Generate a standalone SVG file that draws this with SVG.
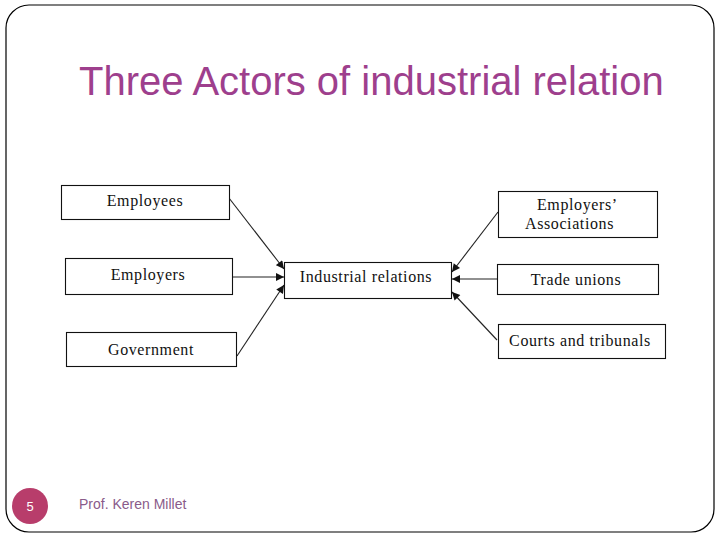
<svg xmlns="http://www.w3.org/2000/svg" width="720" height="540" viewBox="0 0 720 540">
<defs>
<style>
.box{fill:#fff;stroke:#111;stroke-width:1.1}
.lbl{font-family:"Liberation Serif","Times New Roman",serif;font-size:16px;fill:#111;letter-spacing:0.6px}
.edge{stroke:#222;stroke-width:1.1;fill:none;marker-end:url(#ah)}
</style>
<marker id="ah" viewBox="0 0 10 10" refX="10" refY="5" markerWidth="9" markerHeight="8" markerUnits="userSpaceOnUse" orient="auto">
<path d="M0,0 L10,5 L0,10 z" fill="#111"/>
</marker>
</defs>
<rect x="0" y="0" width="720" height="540" fill="#fff"/>
<rect id="slide" x="6" y="5" width="708" height="527" rx="23" ry="23" fill="#fff" stroke="#000" stroke-width="1.2"/>
<text id="title" x="79" y="95" font-family="'Liberation Sans',Arial,sans-serif" font-size="40" fill="#9E3F8D">Three Actors of industrial relation</text>

<g id="connectors">
<line class="edge" x1="229" y1="198" x2="284" y2="269"/>
<line class="edge" x1="232" y1="277" x2="284" y2="277"/>
<line class="edge" x1="237" y1="356" x2="284" y2="285"/>
<line class="edge" x1="498" y1="212" x2="452" y2="272"/>
<line class="edge" x1="497" y1="279" x2="452" y2="279"/>
<line class="edge" x1="497" y1="340" x2="452" y2="292"/>
</g>

<g id="employees">
<rect class="box" x="61.5" y="185.5" width="168" height="34" stroke-width="1.8"/>
<text class="lbl" x="145" y="206" text-anchor="middle">Employees</text>
</g>
<g id="employers">
<rect class="box" x="65.5" y="258.5" width="167" height="36"/>
<text class="lbl" x="148" y="280" text-anchor="middle">Employers</text>
</g>
<g id="government">
<rect class="box" x="66.5" y="332.5" width="170" height="34"/>
<text class="lbl" x="151" y="355" text-anchor="middle">Government</text>
</g>
<g id="industrial-relations">
<rect class="box" x="284.5" y="262.5" width="167" height="36"/>
<text class="lbl" x="366" y="282" text-anchor="middle">Industrial relations</text>
</g>
<g id="employers-associations">
<rect class="box" x="498.5" y="191.5" width="159" height="46"/>
<text class="lbl" x="537" y="210">Employers’</text>
<text class="lbl" x="525" y="229">Associations</text>
</g>
<g id="trade-unions">
<rect class="box" x="497.5" y="264.5" width="161" height="30"/>
<text class="lbl" x="576" y="285" text-anchor="middle">Trade unions</text>
</g>
<g id="courts">
<rect class="box" x="498.5" y="324.5" width="167" height="34"/>
<text class="lbl" x="580" y="346" text-anchor="middle">Courts and tribunals</text>
</g>

<g id="footer">
<circle cx="30" cy="506" r="18" fill="#B83D6B"/>
<text x="30" y="511" text-anchor="middle" font-family="'Liberation Sans',Arial,sans-serif" font-size="13" fill="#fff">5</text>
<text x="79" y="509" font-family="'Liberation Sans',Arial,sans-serif" font-size="14" fill="#8A5B8A">Prof. Keren Millet</text>
</g>
</svg>
